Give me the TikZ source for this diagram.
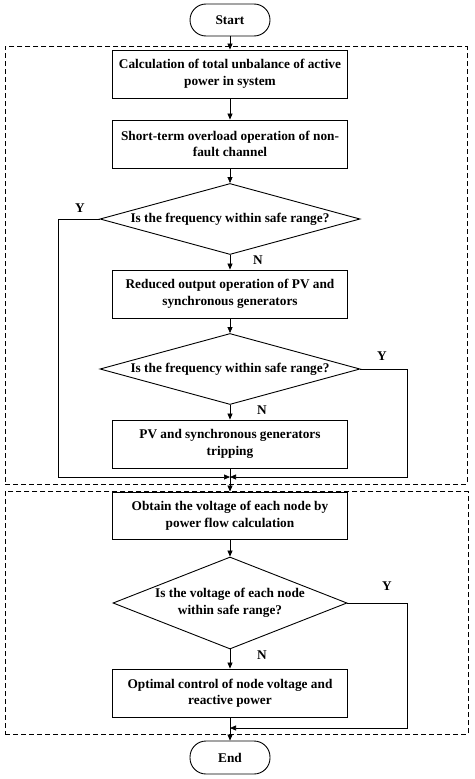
\documentclass[tikz,border=0pt]{standalone}
\usepackage{fontspec}
\setmainfont{Liberation Serif}
\usetikzlibrary{shapes.geometric,arrows.meta}
\begin{document}
\begin{tikzpicture}[x=1pt,y=-1pt,
  every node/.style={font=\fontsize{13.3}{16.5}\selectfont\bfseries},
  procbox/.style={draw, line width=0.9pt, minimum width=235pt, minimum height=48pt, align=center, inner sep=2pt},
  termbox/.style={draw, line width=0.9pt, minimum width=80pt, minimum height=32pt, rounded corners=16pt},
  decbox/.style={draw, diamond, line width=0.9pt, inner sep=0pt, align=center},
  flow/.style={line width=0.7pt, -{Triangle[length=6pt,width=5pt]}},
  groupbox/.style={draw, line width=0.7pt, dash pattern=on 5pt off 3pt},
  lbl/.style={inner sep=1pt}
]
\useasboundingbox (0,0) rectangle (474,779);
\fill[white] (0,0) rectangle (474,779);

\node[groupbox, minimum width=462pt, minimum height=437.3pt] (g1) at (236,265.35) {};
\node[groupbox, minimum width=463pt, minimum height=242.3pt] (g2) at (236.5,612.85) {};

\node[termbox] (start) at (230,20) {Start};
\node[procbox] (b1) at (230,74) {Calculation of total unbalance of active\\power in system};
\node[procbox] (b2) at (230,144) {Short-term overload operation of non-\\fault channel};
\node[decbox, aspect=3.66, minimum width=260pt, minimum height=71pt] (d1) at (230,219) {Is the frequency within safe range?};
\node[procbox] (b3) at (230,294) {Reduced output operation of PV and\\synchronous generators};
\node[decbox, aspect=3.66, minimum width=260pt, minimum height=71pt] (d2) at (230,369) {Is the frequency within safe range?};
\node[procbox] (b4) at (230,444) {PV and synchronous generators\\tripping};
\node[procbox, minimum height=47pt] (b5) at (230,515.5) {Obtain the voltage of each node by\\power flow calculation};
\node[decbox, aspect=2.54, minimum width=234pt, minimum height=92pt] (d3) at (230,603) {Is the voltage of each node\\within safe range?};
\node[procbox] (b6) at (230,693) {Optimal control of node voltage and\\reactive power};
\node[termbox, minimum height=33pt] (end) at (230,757.5) {End};

\coordinate (m1) at (230,477);
\coordinate (m2) at (230,728);
\coordinate (l1) at (58.5,219);
\coordinate (l2) at (58.5,477);
\coordinate (r1) at (407,369);
\coordinate (r2) at (407,477);
\coordinate (r3) at (407,603);
\coordinate (r4) at (407,728);

\draw[flow] (start) -- (b1);
\draw[flow] (b1) -- (b2);
\draw[flow] (b2) -- (d1.north);
\draw[flow] (d1.south) -- (b3);
\draw[flow] (b3) -- (d2.north);
\draw[flow] (d2.south) -- (b4);
\draw[flow] (b4) -- (b5);
\draw[flow] (b5) -- (d3.north);
\draw[flow] (d3.south) -- (b6);
\draw[flow] (b6) -- (end);

\draw[flow] (d1.west) -- (l1) -- (l2) -- (m1);
\draw[flow] (d2.east) -- (r1) -- (r2) -- (m1);
\draw[flow] (d3.east) -- (r3) -- (r4) -- (m2);

\node[lbl] (y1) at (80,208) {Y};
\node[lbl] (n1) at (258,260) {N};
\node[lbl] (y2) at (382,356) {Y};
\node[lbl] (n2) at (262,410) {N};
\node[lbl] (y3) at (387,586) {Y};
\node[lbl] (n3) at (262,655) {N};
\end{tikzpicture}
\end{document}
